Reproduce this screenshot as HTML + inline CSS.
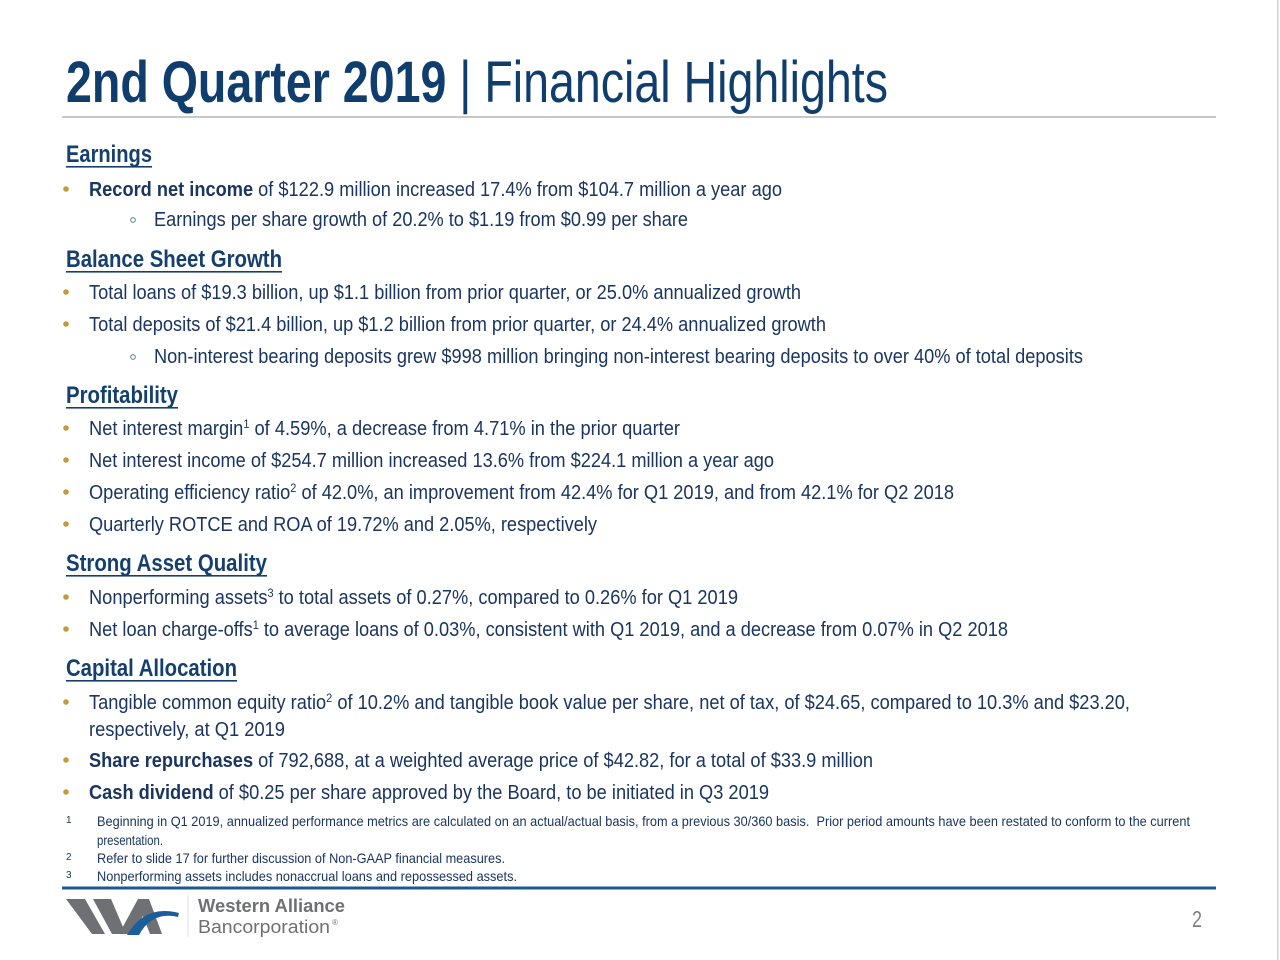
<!DOCTYPE html>
<html>
<head>
<meta charset="utf-8">
<style>
html,body{margin:0;padding:0;background:#fff;}
svg{display:block;}
text{font-family:"Liberation Sans",Arial,sans-serif;white-space:pre;}
.b{fill:#1a3560;font-size:20px;}
.h{fill:#153f6e;font-size:24px;font-weight:bold;}
.f{fill:#1a3560;font-size:14px;}
.fn{fill:#1a3560;font-size:10px;}
.bold{font-weight:bold;}
</style>
</head>
<body>
<svg width="1280" height="960" viewBox="0 0 1280 960" xmlns="http://www.w3.org/2000/svg">
<rect x="0" y="0" width="1280" height="960" fill="#fff"/>
<rect x="1277" y="0" width="1.5" height="960" fill="#d0d0d0"/>

<!-- Title -->
<text x="66" y="102" font-size="58" fill="#0f3d6d" textLength="822" lengthAdjust="spacingAndGlyphs"><tspan font-weight="bold">2nd Quarter 2019</tspan> | Financial Highlights</text>
<rect x="62" y="116" width="1154" height="2" fill="#c8c8c8"/>

<!-- Earnings -->
<text class="h" x="66" y="162" textLength="86" lengthAdjust="spacingAndGlyphs">Earnings</text>
<rect x="66" y="166" width="86" height="1.6" fill="#153f6e"/>
<circle cx="66" cy="189" r="2.8" fill="#c49a3d"/>
<text class="b" x="89" y="196" textLength="693" lengthAdjust="spacingAndGlyphs"><tspan class="bold">Record net income</tspan> of $122.9 million increased 17.4% from $104.7 million a year ago</text>
<circle cx="133" cy="220" r="2.3" fill="none" stroke="#5d9090" stroke-width="1.1"/>
<text class="b" x="154" y="226" textLength="534" lengthAdjust="spacingAndGlyphs">Earnings per share growth of 20.2% to $1.19 from $0.99 per share</text>

<!-- Balance Sheet Growth -->
<text class="h" x="66" y="267" textLength="216" lengthAdjust="spacingAndGlyphs">Balance Sheet Growth</text>
<rect x="66" y="271" width="216" height="1.6" fill="#153f6e"/>
<circle cx="66" cy="292" r="2.8" fill="#c49a3d"/>
<text class="b" x="89" y="299" textLength="712" lengthAdjust="spacingAndGlyphs">Total loans of $19.3 billion, up $1.1 billion from prior quarter, or 25.0% annualized growth</text>
<circle cx="66" cy="324" r="2.8" fill="#c49a3d"/>
<text class="b" x="89" y="331" textLength="737" lengthAdjust="spacingAndGlyphs">Total deposits of $21.4 billion, up $1.2 billion from prior quarter, or 24.4% annualized growth</text>
<circle cx="133" cy="357" r="2.3" fill="none" stroke="#5d9090" stroke-width="1.1"/>
<text class="b" x="154" y="363" textLength="929" lengthAdjust="spacingAndGlyphs">Non-interest bearing deposits grew $998 million bringing non-interest bearing deposits to over 40% of total deposits</text>

<!-- Profitability -->
<text class="h" x="66" y="403" textLength="112" lengthAdjust="spacingAndGlyphs">Profitability</text>
<rect x="66" y="407" width="112" height="1.6" fill="#153f6e"/>
<circle cx="66" cy="428" r="2.8" fill="#c49a3d"/>
<text class="b" x="89" y="435" textLength="591" lengthAdjust="spacingAndGlyphs">Net interest margin<tspan font-size="12" dy="-7">1</tspan><tspan dy="7"> of 4.59%, a decrease from 4.71% in the prior quarter</tspan></text>
<circle cx="66" cy="460" r="2.8" fill="#c49a3d"/>
<text class="b" x="89" y="467" textLength="685" lengthAdjust="spacingAndGlyphs">Net interest income of $254.7 million increased 13.6% from $224.1 million a year ago</text>
<circle cx="66" cy="492" r="2.8" fill="#c49a3d"/>
<text class="b" x="89" y="499" textLength="865" lengthAdjust="spacingAndGlyphs">Operating efficiency ratio<tspan font-size="12" dy="-7">2</tspan><tspan dy="7"> of 42.0%, an improvement from 42.4% for Q1 2019, and from 42.1% for Q2 2018</tspan></text>
<circle cx="66" cy="524" r="2.8" fill="#c49a3d"/>
<text class="b" x="89" y="531" textLength="508" lengthAdjust="spacingAndGlyphs">Quarterly ROTCE and ROA of 19.72% and 2.05%, respectively</text>

<!-- Strong Asset Quality -->
<text class="h" x="66" y="571" textLength="201" lengthAdjust="spacingAndGlyphs">Strong Asset Quality</text>
<rect x="66" y="575" width="201" height="1.6" fill="#153f6e"/>
<circle cx="66" cy="597" r="2.8" fill="#c49a3d"/>
<text class="b" x="89" y="604" textLength="649" lengthAdjust="spacingAndGlyphs">Nonperforming assets<tspan font-size="12" dy="-7">3</tspan><tspan dy="7"> to total assets of 0.27%, compared to 0.26% for Q1 2019</tspan></text>
<circle cx="66" cy="629" r="2.8" fill="#c49a3d"/>
<text class="b" x="89" y="636" textLength="919" lengthAdjust="spacingAndGlyphs">Net loan charge-offs<tspan font-size="12" dy="-7">1</tspan><tspan dy="7"> to average loans of 0.03%, consistent with Q1 2019, and a decrease from 0.07% in Q2 2018</tspan></text>

<!-- Capital Allocation -->
<text class="h" x="66" y="676" textLength="171" lengthAdjust="spacingAndGlyphs">Capital Allocation</text>
<rect x="66" y="680" width="171" height="1.6" fill="#153f6e"/>
<circle cx="66" cy="702" r="2.8" fill="#c49a3d"/>
<text class="b" x="89" y="709" textLength="1041" lengthAdjust="spacingAndGlyphs">Tangible common equity ratio<tspan font-size="12" dy="-7">2</tspan><tspan dy="7"> of 10.2% and tangible book value per share, net of tax, of $24.65, compared to 10.3% and $23.20,</tspan></text>
<text class="b" x="89" y="736" textLength="196" lengthAdjust="spacingAndGlyphs">respectively, at Q1 2019</text>
<circle cx="66" cy="760" r="2.8" fill="#c49a3d"/>
<text class="b" x="89" y="767" textLength="784" lengthAdjust="spacingAndGlyphs"><tspan class="bold">Share repurchases</tspan> of 792,688, at a weighted average price of $42.82, for a total of $33.9 million</text>
<circle cx="66" cy="792" r="2.8" fill="#c49a3d"/>
<text class="b" x="89" y="799" textLength="680" lengthAdjust="spacingAndGlyphs"><tspan class="bold">Cash dividend</tspan> of $0.25 per share approved by the Board, to be initiated in Q3 2019</text>

<!-- Footnotes -->
<text class="fn" x="66" y="823">1</text>
<text class="f" x="97" y="826" textLength="1093" lengthAdjust="spacingAndGlyphs">Beginning in Q1 2019, annualized performance metrics are calculated on an actual/actual basis, from a previous 30/360 basis.  Prior period amounts have been restated to conform to the current</text>
<text class="f" x="97" y="845" textLength="66" lengthAdjust="spacingAndGlyphs">presentation.</text>
<text class="fn" x="66" y="860">2</text>
<text class="f" x="97" y="863" textLength="408" lengthAdjust="spacingAndGlyphs">Refer to slide 17 for further discussion of Non-GAAP financial measures.</text>
<text class="fn" x="66" y="878">3</text>
<text class="f" x="97" y="881" textLength="420" lengthAdjust="spacingAndGlyphs">Nonperforming assets includes nonaccrual loans and repossessed assets.</text>

<!-- Footer rule -->
<rect x="62" y="886.5" width="1154" height="3" fill="#1c5892"/>

<!-- Logo -->
<polygon points="66,899 85,899 105,934 92,934" fill="#6f7073"/>
<polygon points="93,899 111,899 126,934 112,934" fill="#6f7073"/>
<polygon points="119,934 138,899 149,899 162,934 150,934 143,916 132,934" fill="#6f7073"/>
<path d="M127,935 Q145,904 179,913 L178,917 Q152,911 139,935 Z" fill="#1b5e9b"/>
<rect x="187.5" y="895" width="1" height="42" fill="#e2e2e2"/>
<text x="198" y="912" font-size="18" font-weight="bold" fill="#6f7073" textLength="147" lengthAdjust="spacingAndGlyphs">Western Alliance</text>
<text x="198" y="933" font-size="18" fill="#6f7073" textLength="132" lengthAdjust="spacingAndGlyphs">Bancorporation</text>
<text x="332" y="925" font-size="8" fill="#6f7073">®</text>

<!-- Page number -->
<text x="1192" y="927" font-size="23" fill="#808080" textLength="10" lengthAdjust="spacingAndGlyphs">2</text>
</svg>
</body>
</html>
